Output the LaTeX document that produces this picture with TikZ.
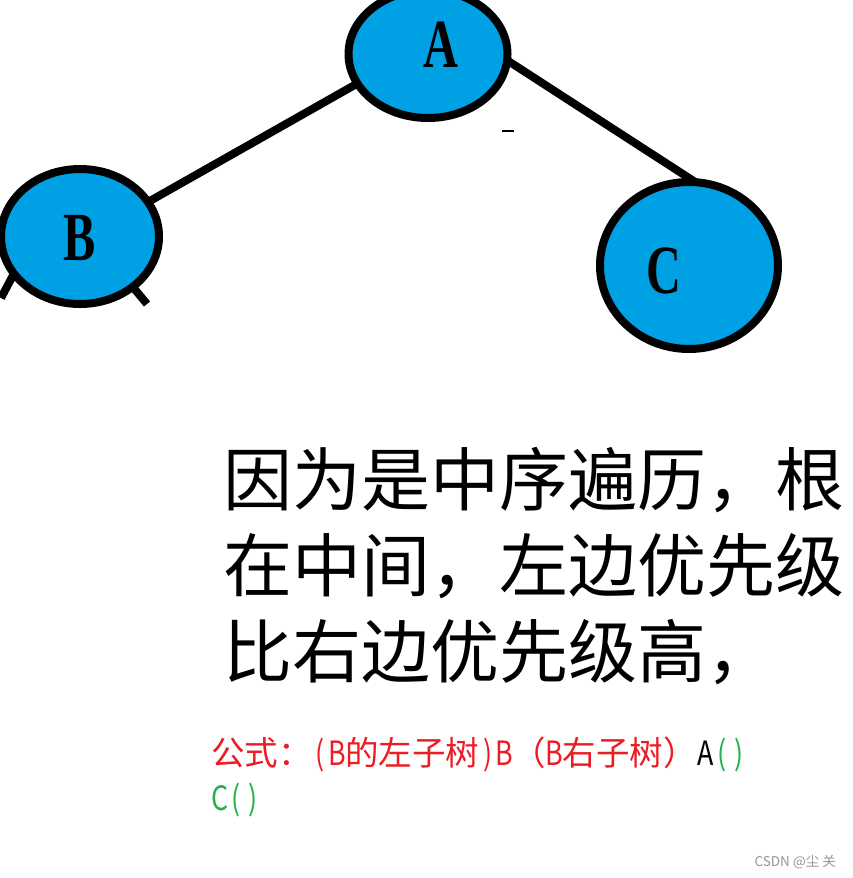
\documentclass[tikz,border=0pt]{standalone}
\usepackage{fontspec}
\setmainfont{Liberation Serif}
\newfontfamily\cjk{Noto Sans CJK SC}
\usetikzlibrary{shapes.geometric,backgrounds}
\definecolor{nodeblue}{RGB}{0,160,228}
\definecolor{fred}{RGB}{237,28,36}
\definecolor{fgreen}{RGB}{34,177,76}
\definecolor{wmgray}{RGB}{150,150,150}
\newcommand{\hw}[1]{\makebox[0.5em]{\scalebox{0.8}[1]{#1}}}
\newcommand{\cond}[1]{\scalebox{0.7}[1]{#1}}
\begin{document}
\begin{tikzpicture}[x=1pt,y=-1pt,
  treenode/.style={ellipse, draw=black, line width=8pt, fill=nodeblue, inner sep=0pt},
  lettr/.style={font=\fontsize{69}{69}\selectfont\bfseries, inner sep=0pt},
  edge/.style={line width=8pt, draw=black},
  bigtxt/.style={font=\cjk\fontsize{69}{80}\selectfont, anchor=base west, inner sep=0pt},
  formula/.style={font=\cjk\fontsize{33.5}{40}\selectfont, anchor=base west, inner sep=0pt},
  wmark/.style={font=\cjk\fontsize{13.5}{15}\selectfont, text=wmgray, anchor=east, inner sep=0pt}]
\useasboundingbox (0,0) rectangle (852,878);
% tree nodes
\node[treenode, minimum width=159pt, minimum height=128pt] (A) at (428,54) {};
\node[treenode, minimum width=158pt, minimum height=135pt] (B) at (80,236.5) {};
\node[treenode, minimum width=178pt, minimum height=167pt] (C) at (689,265.5) {};
\node[lettr] (la) at (441,45) {\cond{A}};
\node[lettr] (lb) at (80,238) {\cond{B}};
\node[lettr] (lc) at (664,271) {\cond{C}};
\coordinate (bl) at (1,298);
\coordinate (br) at (147,304);
\coordinate (d1) at (502,131);
\coordinate (d2) at (514,131);
\begin{scope}[on background layer]
\fill[white] (0,0) rectangle (852,878);
\draw[edge, shorten <=-12pt, shorten >=-12pt] (A.203) -- (B.27);
\draw[edge, shorten <=-12pt, shorten >=-12pt] (A.354) -- (C.north);
\draw[edge, shorten <=-10pt] (B.211) -- (bl);
\draw[edge, shorten <=-10pt] (B.316) -- (br);
\end{scope}
\draw[line width=2pt] (d1) -- (d2);
% main text
\node[bigtxt] (t1) at (223,505) {因为是中序遍历，根};
\node[bigtxt] (t2) at (223,591) {在中间，左边优先级};
\node[bigtxt] (t3) at (223,677) {比右边优先级高，};
% formula
\node[formula] (f1) at (211,765) {\color{fred}公式：\hw{(}\hw{B}的左子树\hw{)}\hw{B}（\hw{B}右子树）\color{black}\hw{A}\color{fgreen}\hw{(}\hw{)}};
\node[formula, text=fgreen] (f2) at (211,810) {\hw{C}\hw{(}\hw{)}};
% watermark
\node[wmark] (wm) at (836,862) {CSDN @尘 关};
\end{tikzpicture}
\end{document}
